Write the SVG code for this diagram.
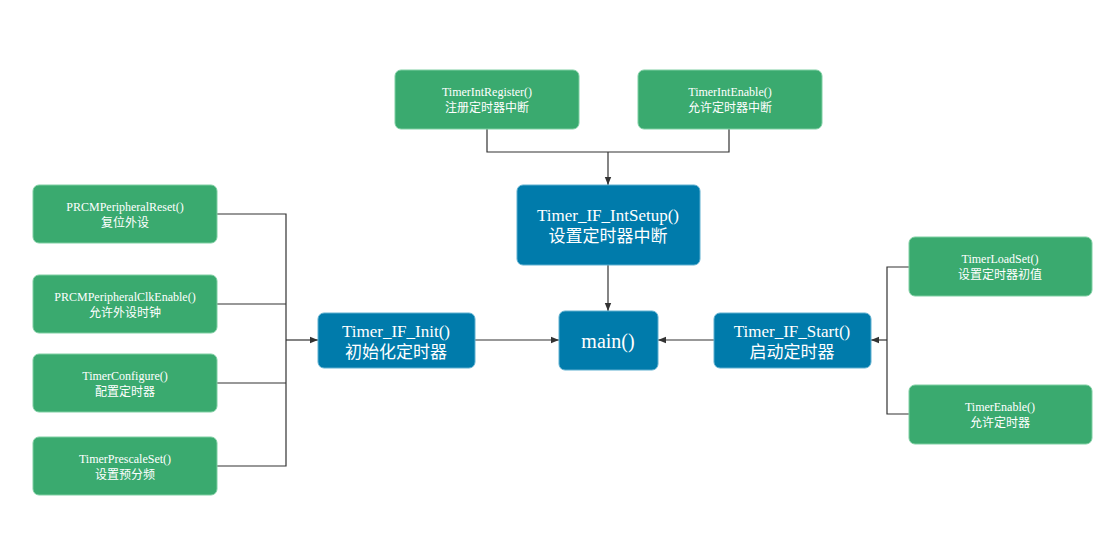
<svg xmlns="http://www.w3.org/2000/svg" width="1113" height="536" viewBox="0 0 1113 536">
<style>
.g{fill:#3aaa6f;stroke:#7fcfa3;stroke-width:1}
.b{fill:#007bab;stroke:#5fb0d0;stroke-width:1}
text{font-family:"Liberation Serif","Noto Sans CJK SC",serif;fill:#fff;text-anchor:middle}
.s{font-size:12px}
.l{font-size:17px}
.c{fill:none;stroke:#333;stroke-width:1.2}
</style>
<defs><marker id="a" viewBox="0 0 10 10" refX="10" refY="5" markerWidth="7" markerHeight="7" orient="auto"><path d="M0,1L10,5L0,9z" fill="#333"/></marker></defs>
<rect width="1113" height="536" fill="#fff"/>
<g id="connectors">
<path class="c" d="M217,214H286V466H217M217,304H286M217,383H286"/>
<path class="c" d="M286,340H318" marker-end="url(#a)"/>
<path class="c" d="M475,340H559" marker-end="url(#a)"/>
<path class="c" d="M714,340H658" marker-end="url(#a)"/>
<path class="c" d="M487,129V152H729V129"/>
<path class="c" d="M608,152V185" marker-end="url(#a)"/>
<path class="c" d="M608,265V311" marker-end="url(#a)"/>
<path class="c" d="M909,267H887V414H909"/>
<path class="c" d="M887,340H871" marker-end="url(#a)"/>
</g>
<g id="n1"><rect class="g" x="33" y="185" width="184" height="58" rx="6"/><text class="s" x="125" y="211">PRCMPeripheralReset()</text><text class="s" x="125" y="227">复位外设</text></g>
<g id="n2"><rect class="g" x="33" y="275" width="184" height="58" rx="6"/><text class="s" x="125" y="301">PRCMPeripheralClkEnable()</text><text class="s" x="125" y="317">允许外设时钟</text></g>
<g id="n3"><rect class="g" x="33" y="354" width="184" height="58" rx="6"/><text class="s" x="125" y="380">TimerConfigure()</text><text class="s" x="125" y="396">配置定时器</text></g>
<g id="n4"><rect class="g" x="33" y="437" width="184" height="58" rx="6"/><text class="s" x="125" y="463">TimerPrescaleSet()</text><text class="s" x="125" y="479">设置预分频</text></g>
<g id="n5"><rect class="b" x="318" y="313" width="157" height="55" rx="6"/><text class="l" x="396" y="337">Timer_IF_Init()</text><text class="l" x="396" y="358">初始化定时器</text></g>
<g id="n6"><rect class="b" x="559" y="311" width="99" height="59" rx="6"/><text x="608" y="348" style="font-size:20px">main()</text></g>
<g id="n7"><rect class="b" x="517" y="185" width="183" height="80" rx="6"/><text class="l" x="608" y="221">Timer_IF_IntSetup()</text><text class="l" x="608" y="242">设置定时器中断</text></g>
<g id="n8"><rect class="g" x="395" y="70" width="184" height="59" rx="6"/><text class="s" x="487" y="96">TimerIntRegister()</text><text class="s" x="487" y="112">注册定时器中断</text></g>
<g id="n9"><rect class="g" x="638" y="70" width="184" height="59" rx="6"/><text class="s" x="730" y="96">TimerIntEnable()</text><text class="s" x="730" y="112">允许定时器中断</text></g>
<g id="n10"><rect class="b" x="714" y="313" width="157" height="55" rx="6"/><text class="l" x="792" y="337">Timer_IF_Start()</text><text class="l" x="792" y="358">启动定时器</text></g>
<g id="n11"><rect class="g" x="909" y="237" width="183" height="59" rx="6"/><text class="s" x="1000" y="263">TimerLoadSet()</text><text class="s" x="1000" y="279">设置定时器初值</text></g>
<g id="n12"><rect class="g" x="909" y="385" width="183" height="59" rx="6"/><text class="s" x="1000" y="411">TimerEnable()</text><text class="s" x="1000" y="427">允许定时器</text></g>
</svg>
